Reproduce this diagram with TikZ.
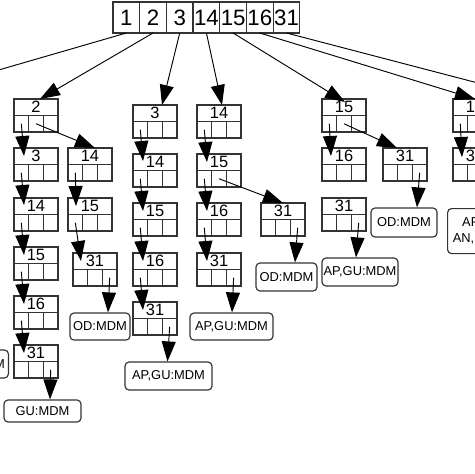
\documentclass[tikz,border=0pt]{standalone}
\usepackage{fontspec}
\setmainfont{Liberation Sans}
\usetikzlibrary{arrows.meta}

% one list record: label on top, three pointer cells below
\newcommand{\recbox}[3]{%
    \node[reclab] (#1) at (#2) {#3};
    \node[reccell] (#1-1) at (#1.south west) {};
    \node[reccell] (#1-2) at (#1-1.north east) {};
    \node[reccell] (#1-3) at (#1-2.north east) {};
}

\begin{document}
\begin{tikzpicture}[x=0.03cm, y=-0.03cm,
    key/.style={draw=black!80, line width=1pt, minimum width=0.8cm, minimum height=0.93cm,
        inner sep=0, outer sep=0, anchor=north west, font=\fontsize{19}{21}\selectfont},
    reclab/.style={draw=black!80, line width=1pt, minimum width=1.32cm, minimum height=0.495cm,
        inner sep=0, outer sep=0, anchor=north west, font=\fontsize{14}{16}\selectfont},
    reccell/.style={draw=black!80, line width=1pt, minimum width=0.44cm, minimum height=0.495cm,
        inner sep=0, outer sep=0, anchor=north west},
    leaf/.style={draw=black!80, line width=1pt, rounded corners=0.12cm, inner sep=0,
        align=center, font=\fontsize{11}{13.6}\selectfont},
    ptr/.style={-{Triangle[length=0.6cm, width=0.42cm]}, line width=0.8pt}]
    \useasboundingbox (0,0) rectangle (474,474);
    \fill[white] (0,0) rectangle (474,474);

    % Key array
    \foreach \v [count=\i] in {1,2,3,14,15,16,31}
        \node[key] (k\v) at ({113+26.7*(\i-1)},2) {\v};
    \coordinate (offl) at (-60,87);
    \coordinate (offr) at (520,94);

    % Column from 2
    \recbox{a2}{14,99}{2}
    \recbox{a3}{14,148}{3}
    \recbox{a14}{14,198}{14}
    \recbox{a15}{14,247}{15}
    \recbox{a16}{14,296}{16}
    \recbox{a31}{14,345}{31}
    \node[leaf, minimum width=2.31cm, minimum height=0.66cm] (la) at (42.5,411) {GU:MDM};
    \node[leaf, minimum width=1.83cm, minimum height=0.84cm, anchor=east] (lx) at (9,364) {OD:MDM};

    % Side column 2 -> 14
    \recbox{b14}{68,148}{14}
    \recbox{b15}{68,198}{15}
    \recbox{b31}{73,253}{31}
    \node[leaf, minimum width=1.8cm, minimum height=0.81cm] (lb) at (100,326.5) {OD:MDM};

    % Column from 3
    \recbox{c3}{133,105}{3}
    \recbox{c14}{133,154}{14}
    \recbox{c15}{133,203}{15}
    \recbox{c16}{133,253}{16}
    \recbox{c31}{133,302}{31}
    \node[leaf, minimum width=2.61cm, minimum height=0.84cm] (lc) at (168.5,376) {AP,GU:MDM};

    % Column from 14
    \recbox{d14}{197,105}{14}
    \recbox{d15}{197,154}{15}
    \recbox{d16}{197,203}{16}
    \recbox{d31}{197,253}{31}
    \node[leaf, minimum width=2.49cm, minimum height=0.81cm] (ld) at (231.5,326.5) {AP,GU:MDM};
    \recbox{e31}{261,203}{31}
    \node[leaf, minimum width=1.83cm, minimum height=0.84cm] (le) at (286.5,277) {OD:MDM};

    % Column from 15
    \recbox{f15}{322,99}{15}
    \recbox{f16}{322,148}{16}
    \recbox{f31}{322,198}{31}
    \node[leaf, minimum width=2.28cm, minimum height=0.84cm] (lf) at (360,272) {AP,GU:MDM};
    \recbox{g31}{383,148}{31}
    \node[leaf, minimum width=1.98cm, minimum height=0.87cm] (lg) at (404,222.5) {OD:MDM};

    % Column from 16
    \recbox{h16}{453,99}{16}
    \recbox{h31}{453,148}{31}
    \node[leaf, minimum width=3.06cm, minimum height=1.35cm, anchor=north west] (lh) at (447,208)
        {AP,GU:MDM\\AN,IN,GU:MDM};

    % Pointers from the key array
    \draw[ptr] (k1.south) -- (offl);
    \draw[ptr] (k2.south) -- ([shift={(26,0)}]a2.north west);
    \draw[ptr] (k3.south) -- ([shift={(29,0)}]c3.north west);
    \draw[ptr] (k14.south) -- ([shift={(25,0)}]d14.north west);
    \draw[ptr] (k15.south) -- ([shift={(23,3)}]f15.north west);
    \draw[ptr] (k16.south) -- ([shift={(22,0)}]h16.north west);
    \draw[ptr] (k31.south) -- (offr);

    % Pointers down the columns
    \draw[ptr] (a2-1.center) -- ([shift={(10,8)}]a3.north west);
    \draw[ptr] (a3-1.center) -- ([shift={(10,7)}]a14.north west);
    \draw[ptr] (a14-1.center) -- ([shift={(10,8)}]a15.north west);
    \draw[ptr] (a15-1.center) -- ([shift={(10,8)}]a16.north west);
    \draw[ptr] (a16-1.center) -- ([shift={(10,8)}]a31.north west);
    \draw[ptr] (a2-2.center) -- ([shift={(27,0)}]b14.north west);
    \draw[ptr] (b14-1.center) -- ([shift={(8,8)}]b15.north west);
    \draw[ptr] (b15-1.center) -- ([shift={(8,8)}]b31.north west);
    \draw[ptr] (c3-1.center) -- ([shift={(10,7)}]c14.north west);
    \draw[ptr] (c14-1.center) -- ([shift={(10,8)}]c15.north west);
    \draw[ptr] (c15-1.center) -- ([shift={(10,8)}]c16.north west);
    \draw[ptr] (c16-1.center) -- ([shift={(10,8)}]c31.north west);
    \draw[ptr] (d14-1.center) -- ([shift={(10,8)}]d15.north west);
    \draw[ptr] (d15-1.center) -- ([shift={(10,8)}]d16.north west);
    \draw[ptr] (d16-1.center) -- ([shift={(10,8)}]d31.north west);
    \draw[ptr] (d15-2.center) -- ([shift={(22,0)}]e31.north west);
    \draw[ptr] (f15-1.center) -- ([shift={(9,8)}]f16.north west);
    \draw[ptr] (f15-2.center) -- ([shift={(14,0)}]g31.north west);
    \draw[ptr] (h16-1.center) -- ([shift={(9,9)}]h31.north west);

    % Pointers to the leaf labels
    \draw[ptr] (a31-3.center) -- ([shift={(7.5,0)}]la.north);
    \draw[ptr] (b31-3.center) -- ([shift={(8,0)}]lb.north);
    \draw[ptr] (c31-3.center) -- ([shift={(-1,0)}]lc.north);
    \draw[ptr] (d31-3.center) -- ([shift={(0.5,0)}]ld.north);
    \draw[ptr] (e31-3.center) -- ([shift={(8.5,0)}]le.north);
    \draw[ptr] (f31-3.center) -- ([shift={(-4,0)}]lf.north);
    \draw[ptr] (g31-3.center) -- ([shift={(13,0)}]lg.north);
\end{tikzpicture}
\end{document}
